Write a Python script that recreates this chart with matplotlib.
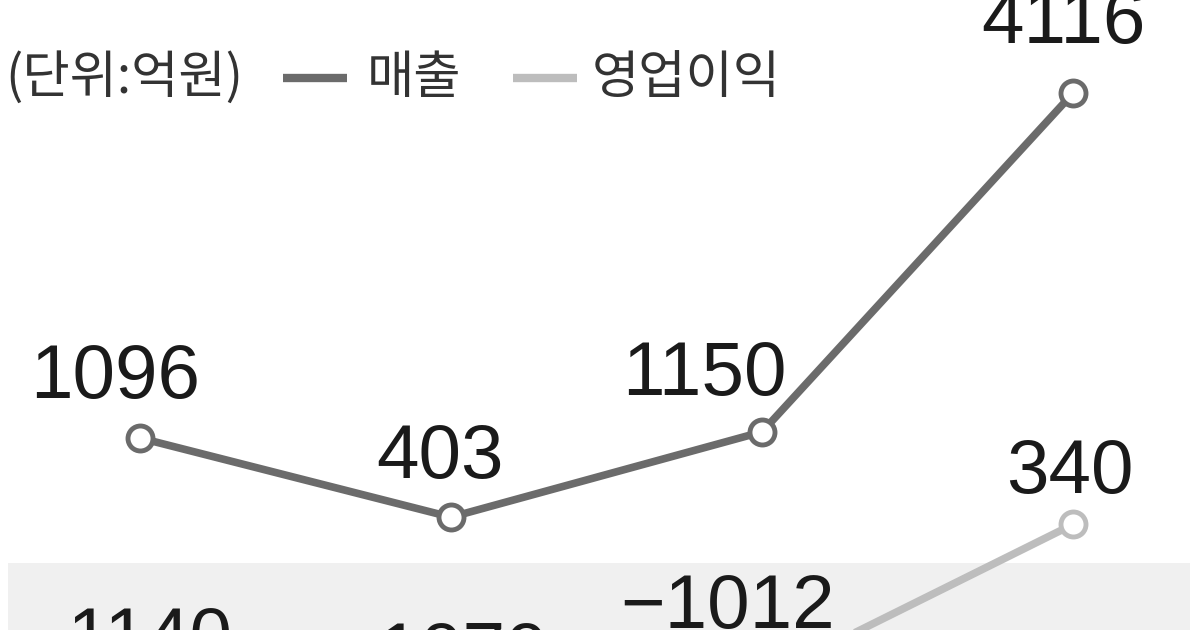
import matplotlib
matplotlib.use('Agg')
import matplotlib.pyplot as plt
from matplotlib import font_manager
from matplotlib.lines import Line2D

# data (억원)
periods = [0, 1, 2, 3]
sales = [1096, 403, 1150, 4116]
profit = [-1140, -1070, -1012, 340]
legend_unit = '(단위:억원)'
legend_sales = '매출'
legend_profit = '영업이익'

# label offsets from each point, in pixels (dx, dy up)
sales_offsets = [(-25, 60), (-11, 59), (-58, 56), (-10, 70)]
profit_offsets = [(-12, 52), (-10, 29), (-35, 70), (-3, 51)]

names = {f.name for f in font_manager.fontManager.ttflist}
num_font = 'Liberation Sans Narrow' if 'Liberation Sans Narrow' in names else 'Liberation Sans'
num_size = 60 if num_font == 'Liberation Sans Narrow' else 55
kr_font = ['Noto Sans CJK KR', 'DejaVu Sans']

dark = '#6b6b6b'
light = '#bdbdbd'

fig = plt.figure(figsize=(12, 6.3), dpi=100)
ax = fig.add_axes([0, 0, 1, 1])
ax.set_xlim(-0.450, 3.408)
ax.set_ylim(-585, 4931)
ax.axis('off')

# negative region shading
ax.axhspan(-5000, 0, xmin=8 / 1200, xmax=1190 / 1200, color='#f0f0f0', lw=0, zorder=0)

ax.plot(periods, sales, color=dark, lw=5.5, marker='o', ms=18, mfc='white',
        mec=dark, mew=3.5, zorder=3, clip_on=False)
ax.plot(periods, profit, color=light, lw=5.5, marker='o', ms=18, mfc='white',
        mec=light, mew=3.5, zorder=2, clip_on=False)

def fmt(v):
    return f'{v}'.replace('-', '\u2212')

for x, v, (dx, dy) in zip(periods, sales, sales_offsets):
    ax.annotate(fmt(v), (x, v), xytext=(dx * 0.72, dy * 0.72), textcoords='offset points',
                ha='center', va='center', fontsize=num_size, family=num_font, color='#1a1a1a', zorder=5)
for x, v, (dx, dy) in zip(periods, profit, profit_offsets):
    ax.annotate(fmt(v), (x, v), xytext=(dx * 0.72, dy * 0.72), textcoords='offset points',
                ha='center', va='center', fontsize=num_size, family=num_font, color='#1a1a1a', zorder=5,
                annotation_clip=False)

# legend row
ly = 1 - 78 / 630
fig.text(5 / 1200, ly, legend_unit, ha='left', va='center', fontsize=37, family=kr_font, color='#333333')
fig.add_artist(Line2D([283 / 1200, 347 / 1200], [ly, ly], color=dark, lw=6, solid_capstyle='butt'))
fig.text(367 / 1200, ly, legend_sales, ha='left', va='center', fontsize=37, family=kr_font, color='#333333')
fig.add_artist(Line2D([513 / 1200, 577 / 1200], [ly, ly], color=light, lw=6, solid_capstyle='butt'))
fig.text(592 / 1200, ly, legend_profit, ha='left', va='center', fontsize=37, family=kr_font, color='#333333')

fig.savefig('out.png', dpi=100, facecolor='white')
